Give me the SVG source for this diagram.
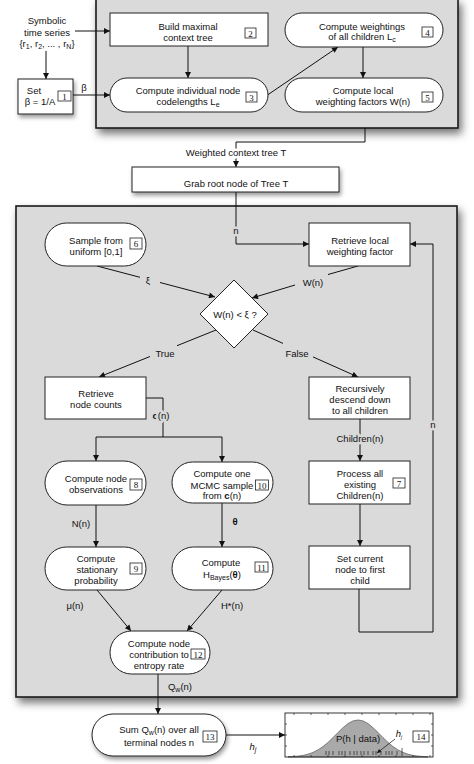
<svg xmlns="http://www.w3.org/2000/svg" width="474" height="764" viewBox="0 0 474 764">
<defs>
<style>
.t{font-family:"Liberation Sans",Arial,sans-serif;font-size:9.5px;text-anchor:middle;fill:#111}
.lg{paint-order:stroke;stroke:#d9d9d9;stroke-width:5px;stroke-linejoin:round}
.lw{paint-order:stroke;stroke:#fff;stroke-width:5px;stroke-linejoin:round}
.num{font-family:"Liberation Serif","Times New Roman",serif;font-size:9px;text-anchor:middle;fill:#111}
.nb{fill:#fff;stroke:#222;stroke-width:0.8}
.box{fill:#fff;stroke:#222;stroke-width:1}
.panel{fill:#dadada;stroke:#1a1a1a;stroke-width:1.6}
.c{fill:none;stroke:#111;stroke-width:1}
.ca{fill:none;stroke:#111;stroke-width:1;marker-end:url(#ah)}
.sub{font-size:7px}
.b{font-weight:bold}
</style>
<marker id="ah" viewBox="0 0 10 10" refX="10" refY="5" markerWidth="8" markerHeight="6" markerUnits="userSpaceOnUse" orient="auto">
<path d="M0,0 L10,5 L0,10 z" fill="#111"/>
</marker>
<marker id="ahs" viewBox="0 0 10 10" refX="10" refY="5" markerWidth="5" markerHeight="4" markerUnits="userSpaceOnUse" orient="auto">
<path d="M0,0 L10,5 L0,10 z" fill="#111"/>
</marker>
<filter id="shP" x="-10%" y="-10%" width="125%" height="125%">
<feDropShadow dx="3" dy="5" stdDeviation="4" flood-color="#000" flood-opacity="0.55"/>
</filter>
<filter id="shN" x="-20%" y="-20%" width="150%" height="160%">
<feDropShadow dx="1.5" dy="3" stdDeviation="2" flood-color="#000" flood-opacity="0.4"/>
</filter>
</defs>

<rect width="474" height="764" fill="#fff"/>

<!-- panels -->
<g id="panel-top"><rect class="panel" x="96" y="-1" width="362" height="129" filter="url(#shP)"/></g>
<g id="panel-main"><rect class="panel" x="16" y="206" width="441" height="491" filter="url(#shP)"/></g>

<!-- connectors -->
<g id="connectors">
<line class="ca" x1="75" y1="31" x2="110" y2="31"/>
<line class="ca" x1="46" y1="51" x2="46" y2="79"/>
<line class="ca" x1="73" y1="95" x2="110" y2="95"/>
<line class="ca" x1="188" y1="46" x2="188" y2="78"/>
<line class="ca" x1="266" y1="96" x2="338" y2="47"/>
<line class="ca" x1="363" y1="47" x2="363" y2="78"/>
<polyline class="ca" points="365,128 365,142 236,142 236,167"/>
<polyline class="ca" points="236,192 236,244 309,244"/>
<line class="c" x1="97" y1="266" x2="140" y2="277.3"/>
<line class="ca" x1="160" y1="282.5" x2="215" y2="297"/>
<line class="c" x1="358" y1="266" x2="328" y2="274.5"/>
<line class="ca" x1="295" y1="285" x2="252" y2="298"/>
<line class="c" x1="216" y1="330" x2="177" y2="345.7"/>
<line class="ca" x1="150" y1="356.5" x2="99" y2="377"/>
<line class="c" x1="253" y1="330" x2="283" y2="343.4"/>
<line class="ca" x1="313" y1="356.9" x2="358" y2="377"/>
<polyline class="c" points="146,398 163,398 163,437"/>
<line class="c" x1="96" y1="437" x2="222" y2="437"/>
<line class="ca" x1="96" y1="437" x2="96" y2="461"/>
<line class="ca" x1="222" y1="437" x2="222" y2="462"/>
<line class="ca" x1="360" y1="419" x2="360" y2="461"/>
<line class="ca" x1="360" y1="504" x2="360" y2="546"/>
<polyline class="ca" points="359,589 359,632 433,632 433,244 410,244"/>
<line class="ca" x1="96" y1="505" x2="96" y2="547"/>
<line class="ca" x1="222" y1="503" x2="222" y2="547"/>
<line class="ca" x1="97" y1="590" x2="131" y2="631"/>
<line class="ca" x1="222" y1="590" x2="187" y2="631"/>
<line class="ca" x1="158" y1="674" x2="158" y2="714"/>
<line class="ca" x1="226" y1="735" x2="285" y2="735"/>
</g>

<!-- connector labels -->
<g id="labels">
<text class="t" x="84" y="91">β</text>
<text class="t lw" x="236" y="156">Weighted context tree T</text>
<text class="t lg" x="236" y="233.5">n</text>
<text class="t" x="148" y="284">ξ</text>
<text class="t" x="313" y="285.5">W(n)</text>
<text class="t" x="165" y="356.5">True</text>
<text class="t" x="297" y="356.5">False</text>
<text class="t lg" x="161" y="418.5"><tspan class="b">c</tspan>(n)</text>
<text class="t lg" x="360" y="441.5">Children(n)</text>
<text class="t lg" x="433" y="427.5">n</text>
<text class="t" x="81" y="527">N(n)</text>
<text class="t b" x="235" y="525">θ</text>
<text class="t" x="75" y="608.5">μ(n)</text>
<text class="t" x="232" y="608.5">H*(n)</text>
<text class="t" x="180" y="690">Q<tspan class="sub" dy="2">w</tspan><tspan dy="-2">(n)</tspan></text>
<text class="t" x="253" y="750" font-style="italic" font-size="8.5px">h<tspan class="sub" dy="2">j</tspan></text>
</g>

<!-- nodes -->
<g id="symbolic">
<text class="t" x="47" y="24">Symbolic</text>
<text class="t" x="47" y="35.5">time series</text>
<text class="t" x="47" y="47">{r<tspan class="sub" dy="2">1</tspan><tspan dy="-2">, r</tspan><tspan class="sub" dy="2">2</tspan><tspan dy="-2">, ... , r</tspan><tspan class="sub" dy="2">N</tspan><tspan dy="-2">}</tspan></text>
</g>

<g id="node1">
<rect class="box" x="18" y="79" width="55" height="35" filter="url(#shN)"/>
<text class="t" x="34" y="93.5">Set</text>
<text class="t" x="40" y="104.5">β = 1/A</text>
<rect class="nb" x="58" y="91" width="13" height="10"/><text class="num" x="64.5" y="99.5">1</text>
</g>

<g id="node2">
<rect class="box" x="110" y="13" width="158" height="33"/>
<text class="t" x="188" y="29.5">Build maximal</text>
<text class="t" x="188" y="40.5">context tree</text>
<rect class="nb" x="245" y="28" width="11" height="10"/><text class="num" x="250.5" y="36.5">2</text>
</g>

<g id="node3">
<rect class="box" x="110" y="78" width="158" height="34" rx="17"/>
<text class="t" x="188" y="94">Compute individual node</text>
<text class="t" x="188" y="105">codelengths L<tspan class="sub" dy="2">e</tspan></text>
<rect class="nb" x="246" y="92" width="11" height="10"/><text class="num" x="251.5" y="100.5">3</text>
</g>

<g id="node4">
<rect class="box" x="285" y="13" width="158" height="34" rx="17"/>
<text class="t" x="362" y="29.5">Compute weightings</text>
<text class="t" x="362" y="40">of all children L<tspan class="sub" dy="2">c</tspan></text>
<rect class="nb" x="422" y="27" width="11" height="10"/><text class="num" x="427.5" y="35.5">4</text>
</g>

<g id="node5">
<rect class="box" x="285" y="78" width="158" height="34" rx="17"/>
<text class="t" x="363" y="94">Compute local</text>
<text class="t" x="363" y="105">weighting factors W(n)</text>
<rect class="nb" x="422" y="92" width="11" height="10"/><text class="num" x="427.5" y="100.5">5</text>
</g>

<g id="grab">
<rect class="box" x="132" y="167" width="207" height="25" filter="url(#shN)"/>
<text class="t" x="236" y="186.5">Grab root node of Tree T</text>
</g>

<g id="node6">
<rect class="box" x="45" y="223" width="101" height="43" rx="21.5"/>
<text class="t" x="96" y="243.5">Sample from</text>
<text class="t" x="96" y="255">uniform [0,1]</text>
<rect class="nb" x="130" y="238" width="12" height="11"/><text class="num" x="136" y="247">6</text>
</g>

<g id="retrieve-weight">
<rect class="box" x="309" y="223" width="101" height="43"/>
<text class="t" x="360" y="243.5">Retrieve local</text>
<text class="t" x="360" y="255">weighting factor</text>
</g>

<g id="decision">
<polygon class="box" points="234,280 268,314 234,348 200,314"/>
<text class="t" x="235" y="317.5">W(n) &lt; ξ ?</text>
</g>

<g id="retrieve-counts">
<rect class="box" x="45" y="377" width="101" height="42"/>
<text class="t" x="96" y="397">Retrieve</text>
<text class="t" x="96" y="407.5">node counts</text>
</g>

<g id="recurse">
<rect class="box" x="309" y="377" width="101" height="42"/>
<text class="t" x="360" y="392">Recursively</text>
<text class="t" x="360" y="403">descend down</text>
<text class="t" x="360" y="414">to all children</text>
</g>

<g id="node7">
<rect class="box" x="309" y="461" width="101" height="43"/>
<text class="t" x="360" y="477">Process all</text>
<text class="t" x="360" y="487.5">existing</text>
<text class="t" x="360" y="498.5">Children(n)</text>
<rect class="nb" x="393" y="478" width="12" height="10"/><text class="num" x="399" y="486.5">7</text>
</g>

<g id="node8">
<rect class="box" x="45" y="461" width="101" height="44" rx="22"/>
<text class="t" x="96" y="482">Compute node</text>
<text class="t" x="96" y="493">observations</text>
<rect class="nb" x="130" y="479" width="12" height="11"/><text class="num" x="136" y="488">8</text>
</g>

<g id="node10">
<rect class="box" x="172" y="462" width="101" height="41" rx="20.5"/>
<text class="t" x="222" y="477">Compute one</text>
<text class="t" x="222" y="488.5">MCMC sample</text>
<text class="t" x="222" y="499"><tspan>from </tspan><tspan class="b">c</tspan><tspan>(n)</tspan></text>
<rect class="nb" x="255.5" y="480" width="13" height="10"/><text class="num" x="262" y="488.5">10</text>
</g>

<g id="set-child">
<rect class="box" x="309" y="546" width="101" height="43"/>
<text class="t" x="360" y="562">Set current</text>
<text class="t" x="360" y="573">node to first</text>
<text class="t" x="360" y="583.5">child</text>
</g>

<g id="node9">
<rect class="box" x="45" y="547" width="101" height="43" rx="21.5"/>
<text class="t" x="96" y="561.5">Compute</text>
<text class="t" x="97" y="572.5">stationary</text>
<text class="t" x="96" y="583.5">probability</text>
<rect class="nb" x="130" y="563" width="12" height="11"/><text class="num" x="136" y="572">9</text>
</g>

<g id="node11">
<rect class="box" x="172" y="547" width="101" height="43" rx="21.5"/>
<text class="t" x="221" y="566">Compute</text>
<text class="t" x="222" y="577.5">H<tspan class="sub" dy="2">Bayes</tspan><tspan dy="-2">(</tspan><tspan class="b">θ</tspan><tspan>)</tspan></text>
<rect class="nb" x="255" y="562" width="13" height="10"/><text class="num" x="261.5" y="570.5">11</text>
</g>

<g id="node12">
<rect class="box" x="110" y="631" width="100" height="43" rx="21.5"/>
<text class="t" x="159" y="647">Compute node</text>
<text class="t" x="159" y="657.5">contribution to</text>
<text class="t" x="159" y="668.5">entropy rate</text>
<rect class="nb" x="191" y="649" width="14" height="10"/><text class="num" x="198" y="657.5">12</text>
</g>

<g id="node13">
<rect class="box" x="92" y="714" width="134" height="42" rx="21" filter="url(#shN)"/>
<text class="t" x="159" y="732.5">Sum Q<tspan class="sub" dy="2">w</tspan><tspan dy="-2">(n) over all</tspan></text>
<text class="t" x="159" y="746">terminal nodes n</text>
<rect class="nb" x="203" y="731" width="14" height="11"/><text class="num" x="210" y="740">13</text>
</g>

<g id="node14">
<rect x="285" y="713" width="148" height="44" fill="#fff"/>
<polygon points="288,757 288,756.8 293,756.5 298,756.1 303,755.4 308,754.2 313,752.4 318,749.9 323,746.6 328,742.4 333,737.6 338,732.5 343,727.7 348,723.6 353,720.9 358,720 363,720.9 368,723.6 373,727.7 378,732.5 383,737.6 388,742.4 393,746.6 398,749.9 403,752.4 408,754.2 413,755.4 418,756.1 423,756.5 428,756.8 428,757" fill="#a9a9a9" stroke="#555" stroke-width="0.7"/>
<g stroke="#222" stroke-width="0.7">
<path d="M294,713v2M311,713v2M328,713v2M345,713v2M362,713v2M379,713v2M396,713v2M413,713v2M430,713v2"/>
<path d="M294,757v-2M311,757v-2M328,757v-2M345,757v-2M362,757v-2M379,757v-2M396,757v-2M413,757v-2M430,757v-2"/>
<path d="M285,724h2M285,735h2M285,746h2M433,724h-2M433,735h-2M433,746h-2"/>
<path d="M326,751v4M329,751v4M333,751v4M339,751v4M342,751v4M345,751v4M350,751v4M354,751v4M357,751v4M361,751v4M364,751v4M368,751v4M373,751v4M376,751v4M381,751v4M386,751v4M389,751v4M392,751v4M397,751v4M402,748v8"/>
</g>
<rect x="285" y="713" width="148" height="44" fill="none" stroke="#222" stroke-width="0.9"/>
<text class="t" x="358" y="742" font-size="8px">P(h | data)</text>
<text class="t" x="399" y="737" font-size="7px" font-style="italic">h<tspan font-size="5px" dy="1.5">j</tspan></text>
<line x1="395" y1="739" x2="377" y2="753" stroke="#111" stroke-width="0.7" marker-end="url(#ahs)"/>
<rect class="nb" x="413" y="731" width="16" height="11"/><text class="num" x="421" y="740">14</text>
</g>
</svg>
